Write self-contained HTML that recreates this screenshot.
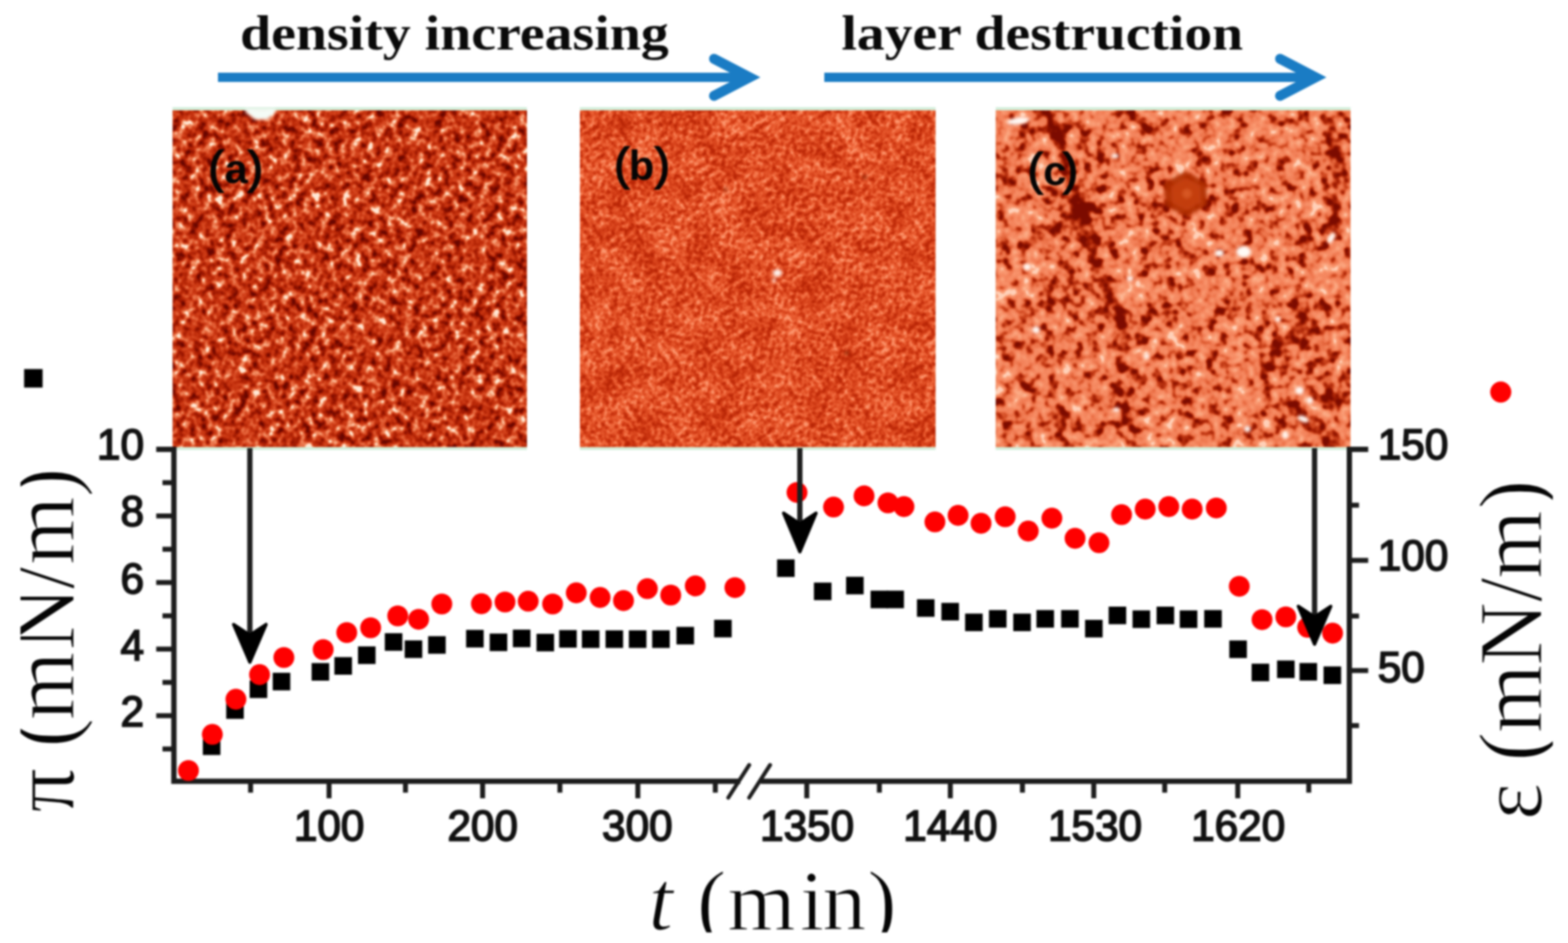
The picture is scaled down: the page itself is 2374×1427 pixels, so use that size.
<!DOCTYPE html>
<html lang="en"><head><meta charset="utf-8"><title>Surface pressure and dilational elasticity versus time</title>
<style>
html,body{margin:0;padding:0;background:#fff;}
body{width:2374px;height:1427px;overflow:hidden;}
svg{display:block;}
.tl{font-family:"Liberation Sans",sans-serif;font-size:64px;fill:#111;stroke:#111;stroke-width:2.4;}
.big{font-family:"Liberation Serif",serif;font-size:133px;fill:#050505;stroke:#fff;stroke-width:1.7;}
.ttl{font-family:"Liberation Serif",serif;font-weight:bold;font-size:74px;fill:#0a0a0a;}
.pl{font-family:"Liberation Sans",sans-serif;font-weight:bold;font-size:63px;fill:#050505;}
.pp{font-weight:normal;font-size:68px;stroke:#050505;stroke-width:2.2;}
.ax{stroke:#1c1c1c;fill:none;}
</style></head><body>
<svg width="2374" height="1427" viewBox="0 0 2374 1427">
<defs>
<filter id="soft" x="-2%" y="-2%" width="104%" height="104%" color-interpolation-filters="sRGB"><feGaussianBlur stdDeviation="1.6"/></filter>
<filter id="texA" x="0" y="0" width="100%" height="100%" color-interpolation-filters="sRGB"><feTurbulence type="fractalNoise" baseFrequency="0.082" numOctaves="2" seed="3"/><feColorMatrix type="matrix" values="1.85 0 0 0 -0.425  1.85 0 0 0 -0.425  1.85 0 0 0 -0.425  0 0 0 0 1"/><feComposite in2="SourceGraphic" operator="arithmetic" k1="1.25" k2="0" k3="1.5" k4="-1.200"/><feComponentTransfer><feFuncR type="table" tableValues="0.412 0.456 0.5 0.544 0.588 0.625 0.663 0.7 0.737 0.763 0.79 0.816 0.842 0.868 0.894 0.912 0.931 0.949 0.969 0.988 1"/><feFuncG type="table" tableValues="0.024 0.037 0.051 0.065 0.078 0.1 0.122 0.143 0.165 0.191 0.217 0.243 0.29 0.337 0.384 0.442 0.499 0.557 0.661 0.765 0.91"/><feFuncB type="table" tableValues="0 0 0 0 0 0.009 0.018 0.026 0.035 0.055 0.075 0.094 0.136 0.178 0.22 0.277 0.335 0.392 0.51 0.627 0.843"/></feComponentTransfer></filter>
<filter id="texB" x="0" y="0" width="100%" height="100%" color-interpolation-filters="sRGB"><feTurbulence type="fractalNoise" baseFrequency="0.14" numOctaves="2" seed="11"/><feColorMatrix type="matrix" values="1 0 0 0 0  1 0 0 0 0  1 0 0 0 0  0 0 0 0 1" result="f"/><feTurbulence type="fractalNoise" baseFrequency="0.022" numOctaves="2" seed="5"/><feColorMatrix type="matrix" values="1 0 0 0 0  1 0 0 0 0  1 0 0 0 0  0 0 0 0 1" result="c"/><feComposite in="f" in2="c" operator="arithmetic" k1="0" k2="1" k3="0.45" k4="-0.225"/><feColorMatrix type="matrix" values="1.7 0 0 0 -0.35  1.7 0 0 0 -0.35  1.7 0 0 0 -0.35  0 0 0 0 1"/><feComposite in2="SourceGraphic" operator="arithmetic" k1="1.25" k2="0" k3="1.5" k4="-1.200"/><feComponentTransfer><feFuncR type="table" tableValues="0.725 0.741 0.756 0.771 0.786 0.801 0.816 0.831 0.847 0.863 0.878 0.891 0.904 0.917 0.929 0.938 0.947 0.956 0.965 0.976 0.988"/><feFuncG type="table" tableValues="0.149 0.162 0.175 0.188 0.201 0.214 0.227 0.247 0.267 0.286 0.306 0.327 0.349 0.371 0.392 0.417 0.441 0.466 0.49 0.539 0.588"/><feFuncB type="table" tableValues="0.024 0.033 0.042 0.051 0.06 0.069 0.078 0.094 0.11 0.125 0.141 0.161 0.18 0.2 0.22 0.245 0.271 0.296 0.322 0.376 0.431"/></feComponentTransfer></filter>
<filter id="texC" x="0" y="0" width="100%" height="100%" color-interpolation-filters="sRGB"><feTurbulence type="fractalNoise" baseFrequency="0.062" numOctaves="2" seed="7"/><feColorMatrix type="matrix" values="1 0 0 0 0  1 0 0 0 0  1 0 0 0 0  0 0 0 0 1" result="f"/><feTurbulence type="fractalNoise" baseFrequency="0.016" numOctaves="2" seed="9"/><feColorMatrix type="matrix" values="1 0 0 0 0  1 0 0 0 0  1 0 0 0 0  0 0 0 0 1" result="c"/><feComposite in="f" in2="c" operator="arithmetic" k1="0" k2="1" k3="0.35" k4="-0.175"/><feColorMatrix type="matrix" values="1.9 0 0 0 -0.45  1.9 0 0 0 -0.45  1.9 0 0 0 -0.45  0 0 0 0 1"/><feComposite in2="SourceGraphic" operator="arithmetic" k1="1.25" k2="0" k3="1.5" k4="-1.200"/><feComponentTransfer><feFuncR type="table" tableValues="0.49 0.542 0.595 0.647 0.703 0.759 0.816 0.86 0.904 0.929 0.941 0.953 0.958 0.963 0.968 0.973 0.976 0.98 0.984 0.988 1"/><feFuncG type="table" tableValues="0.047 0.073 0.099 0.125 0.178 0.23 0.282 0.348 0.413 0.456 0.483 0.51 0.525 0.541 0.557 0.573 0.598 0.624 0.649 0.675 0.816"/><feFuncB type="table" tableValues="0 0.005 0.01 0.016 0.052 0.089 0.125 0.188 0.25 0.293 0.323 0.353 0.369 0.384 0.4 0.416 0.443 0.471 0.498 0.525 0.722"/></feComponentTransfer></filter>
<filter id="b8" x="-40%" y="-40%" width="180%" height="180%"><feGaussianBlur stdDeviation="7"/></filter>
<filter id="b5" x="-40%" y="-40%" width="180%" height="180%"><feGaussianBlur stdDeviation="4"/></filter>
<filter id="b3" x="-40%" y="-40%" width="180%" height="180%"><feGaussianBlur stdDeviation="2.2"/></filter>
<clipPath id="cA"><rect x="261.3" y="167" width="536.5" height="509.5"/></clipPath>
<clipPath id="cB"><rect x="878" y="167" width="538.5" height="509.5"/></clipPath>
<clipPath id="cC"><rect x="1507.5" y="167" width="537.3" height="509.5"/></clipPath>

<clipPath id="cpL"><rect x="31" y="0" width="400" height="1427"/></clipPath>
<clipPath id="cpR"><rect x="2000" y="0" width="351" height="1427"/></clipPath>
<clipPath id="cpB"><rect x="0" y="1200" width="2374" height="210.5"/></clipPath>
</defs>
<rect width="2374" height="1427" fill="#fff"/>
<g filter="url(#soft)">
<text class="ttl" x="363.5" y="75" textLength="649" lengthAdjust="spacingAndGlyphs">density increasing</text>
<text class="ttl" x="1274" y="75" textLength="608" lengthAdjust="spacingAndGlyphs">layer destruction</text>
<g stroke="#1a7cc4" fill="none" stroke-linecap="round" stroke-linejoin="miter"><line x1="330" y1="117" x2="1129" y2="117" stroke-width="14" stroke-linecap="butt"/><polyline points="1081,89 1135,117 1081,145" stroke-width="15"/></g>
<g stroke="#1a7cc4" fill="none" stroke-linecap="round" stroke-linejoin="miter"><line x1="1248" y1="117" x2="1986" y2="117" stroke-width="14" stroke-linecap="butt"/><polyline points="1938,89 1992,117 1938,145" stroke-width="15"/></g>
<rect x="261.3" y="162.2" width="536.5" height="518.8" fill="#d2eeda"/>
<rect x="878" y="162.2" width="538.5" height="518.8" fill="#d2eeda"/>
<rect x="1507.5" y="162.2" width="537.3" height="518.8" fill="#d2eeda"/>
<g clip-path="url(#cA)"><g filter="url(#texA)" transform="rotate(27 529.55 421.75)"><rect x="129.55" y="21.75" width="800" height="800" fill="#cccccc"/><g transform="rotate(-27 529.55 421.75)"><g fill="#fff" filter="url(#b3)"><ellipse cx="455" cy="262" rx="8" ry="7"/><ellipse cx="480" cy="294" rx="6" ry="8"/><ellipse cx="287" cy="188" rx="6" ry="5"/><ellipse cx="332" cy="302" rx="5" ry="6"/><ellipse cx="595" cy="327" rx="5" ry="7"/><ellipse cx="540" cy="393" rx="6" ry="5"/><ellipse cx="370" cy="390" rx="5" ry="6"/><ellipse cx="620" cy="480" rx="6" ry="4"/><ellipse cx="410" cy="452" rx="5" ry="5"/><ellipse cx="545" cy="585" rx="6" ry="7"/><ellipse cx="370" cy="563" rx="5" ry="8"/><ellipse cx="700" cy="573" rx="6" ry="5"/><ellipse cx="530" cy="655" rx="6" ry="5"/><ellipse cx="630" cy="640" rx="5" ry="5"/><ellipse cx="755" cy="470" rx="4" ry="5"/><ellipse cx="560" cy="220" rx="4" ry="4"/><ellipse cx="320" cy="470" rx="4" ry="4"/><ellipse cx="770" cy="620" rx="5" ry="5"/></g></g></g></g>
<path d="M371 164H417V170L405 181H386L372 170Z" fill="#f4fbf6" filter="url(#b3)"/>
<g clip-path="url(#cB)"><g filter="url(#texB)" transform="rotate(-33 1147.25 421.75)"><rect x="747.25" y="21.75" width="800" height="800" fill="#cccccc"/></g><g fill="#fff5f0" filter="url(#b3)"><ellipse cx="1177" cy="413" rx="7" ry="5.5"/><ellipse cx="1172" cy="424" rx="3" ry="4" opacity="0.7"/></g><g fill="#7a1c00" filter="url(#b3)" opacity="0.7"><circle cx="1309" cy="268" r="3.5"/><circle cx="1282" cy="534" r="3.5"/><circle cx="1098" cy="287" r="3"/></g></g>
<g clip-path="url(#cC)"><g filter="url(#texC)" transform="rotate(38 1776.15 421.75)"><rect x="1376.15" y="21.75" width="800" height="800" fill="#cccccc"/><g transform="rotate(-38 1776.15 421.75)"><g filter="url(#b5)" fill="none" stroke="#9c9c9c" stroke-linecap="round" stroke-linejoin="round"><path d="M1582 172L1600 200L1616 245L1628 295" stroke-width="20"/><path d="M1636 325L1650 358L1672 425L1696 485L1708 525" stroke-width="17"/><path d="M1634 335L1582 358L1545 370" stroke-width="10" stroke="#a8a8a8"/><path d="M1515 512L1576 535L1596 605L1606 640" stroke-width="11" stroke="#a4a4a4"/><path d="M1962 448L1981 478L1962 500L1912 555" stroke-width="15" stroke="#a0a0a0"/><path d="M2012 185L2025 260L2020 345" stroke-width="18" stroke="#a8a8a8"/><path d="M1945 615L1985 640L2020 668" stroke-width="24" stroke="#a4a4a4"/><path d="M1985 480L2005 560L2015 620" stroke-width="14" stroke="#a6a6a6"/><path d="M1700 520L1690 580L1712 640" stroke-width="10" stroke="#acacac"/></g><g filter="url(#b5)"><ellipse cx="1634" cy="320" rx="18" ry="26" fill="#868686" transform="rotate(-15 1634 320)"/></g></g></g><g filter="url(#b3)"><path d="M1795 259L1826 276L1828 310L1797 328L1765 312L1762 277Z" fill="#ae2c06" opacity="0.9"/><path d="M1795 269L1817 281L1818 306L1797 318L1775 307L1773 282Z" fill="#c8400f" opacity="0.85"/><circle cx="1797" cy="293" r="7" fill="#dc5c2a" opacity="0.8"/></g><g fill="#fffaf6" filter="url(#b3)"><ellipse cx="1882.7" cy="381" rx="11" ry="9"/><ellipse cx="1846" cy="383" rx="7" ry="5.5"/><ellipse cx="1541.7" cy="183" rx="17" ry="5.5" transform="rotate(-8 1541.7 183)"/><ellipse cx="1555" cy="404" rx="6" ry="5"/><ellipse cx="1568.6" cy="499" rx="6" ry="5.5"/><ellipse cx="1711" cy="421.7" rx="5" ry="4"/><ellipse cx="1967.5" cy="591" rx="6.5" ry="6"/><ellipse cx="1973" cy="634" rx="9" ry="4.5" transform="rotate(20 1973 634)"/><ellipse cx="1888.5" cy="649" rx="5" ry="5"/><ellipse cx="1946" cy="658.7" rx="5" ry="5"/><ellipse cx="1690" cy="620" rx="5" ry="3.5"/><ellipse cx="1736" cy="539" rx="4" ry="4.5"/><ellipse cx="2015.7" cy="360" rx="4.5" ry="9" transform="rotate(30 2015.7 360)"/><ellipse cx="1934.7" cy="483" rx="4" ry="4"/><ellipse cx="1688" cy="236" rx="6" ry="3.5"/><ellipse cx="1983" cy="606" rx="5" ry="5"/></g></g>

<text class="pl" y="277"><tspan class="pp" x="315.5">(</tspan><tspan x="340">a</tspan><tspan class="pp" x="375.5">)</tspan></text>
<text class="pl" y="271.5"><tspan class="pp" x="930">(</tspan><tspan x="952">b</tspan><tspan class="pp" x="991.5">)</tspan></text>
<text class="pl" y="279.5"><tspan class="pp" x="1556">(</tspan><tspan x="1579.5">c</tspan><tspan class="pp" x="1609.5">)</tspan></text>
<rect x="36.5" y="558.5" width="28" height="28" fill="#000"/>
<circle cx="2272.2" cy="593.2" r="16" fill="#f00"/>
<g class="ax" stroke-width="8" stroke-linecap="butt">
<path d="M236.5 680H263.3V1182.3H1121"/>
<path d="M1152 1182.3H2043V680H2071.5"/>
<path d="M1102.7 1207L1134.3 1157.7M1134.3 1207L1165.9 1157.7" stroke-width="6" stroke-linecap="round"/>
<path d="M236.5 780.75H263" stroke-width="7.5"/>
<path d="M236.5 881.5H263" stroke-width="7.5"/>
<path d="M236.5 982.25H263" stroke-width="7.5"/>
<path d="M236.5 1083H263" stroke-width="7.5"/>
<path d="M246 730.4H263" stroke-width="7.5"/>
<path d="M246 831.15H263" stroke-width="7.5"/>
<path d="M246 931.9H263" stroke-width="7.5"/>
<path d="M246 1032.65H263" stroke-width="7.5"/>
<path d="M246 1133.4H263" stroke-width="7.5"/>
<path d="M2043 848H2071.5" stroke-width="7.5"/>
<path d="M2043 1014.7H2071.5" stroke-width="7.5"/>
<path d="M2043 764.5H2057.6" stroke-width="7.5"/>
<path d="M2043 932.2H2057.6" stroke-width="7.5"/>
<path d="M2043 1098H2057.6" stroke-width="7.5"/>
<path d="M498.2 1182V1208" stroke-width="7.5"/>
<path d="M730.7 1182V1208" stroke-width="7.5"/>
<path d="M965.7 1182V1208" stroke-width="7.5"/>
<path d="M1221.5 1182V1208" stroke-width="7.5"/>
<path d="M1438.8 1182V1208" stroke-width="7.5"/>
<path d="M1656 1182V1208" stroke-width="7.5"/>
<path d="M1874 1182V1208" stroke-width="7.5"/>
<path d="M379.4 1182V1199.5" stroke-width="7.5"/>
<path d="M613.9 1182V1199.5" stroke-width="7.5"/>
<path d="M847.7 1182V1199.5" stroke-width="7.5"/>
<path d="M1083 1182V1199.5" stroke-width="7.5"/>
<path d="M1331.4 1182V1199.5" stroke-width="7.5"/>
<path d="M1548 1182V1199.5" stroke-width="7.5"/>
<path d="M1763.4 1182V1199.5" stroke-width="7.5"/>
<path d="M1981.5 1182V1199.5" stroke-width="7.5"/>
</g>
<text class="tl" text-anchor="middle" x="498.3" y="1272">100</text>
<text class="tl" text-anchor="middle" x="730.8" y="1272">200</text>
<text class="tl" text-anchor="middle" x="965" y="1272">300</text>
<text class="tl" text-anchor="middle" x="1222" y="1272">1350</text>
<text class="tl" text-anchor="middle" x="1438.8" y="1272">1440</text>
<text class="tl" text-anchor="middle" x="1657.9" y="1272">1530</text>
<text class="tl" text-anchor="middle" x="1874.6" y="1272">1620</text>
<text class="tl" text-anchor="end" x="218" y="695.1">10</text>
<text class="tl" text-anchor="end" x="218" y="796">8</text>
<text class="tl" text-anchor="end" x="218" y="898">6</text>
<text class="tl" text-anchor="end" x="218" y="998.8">4</text>
<text class="tl" text-anchor="end" x="218" y="1099.2">2</text>
<text class="tl" x="2086" y="694.5">150</text>
<text class="tl" x="2086" y="863">100</text>
<text class="tl" x="2086" y="1032.2">50</text>
<g fill="#000">
<rect x="307.1" y="1115.9" width="26.6" height="26.6"/>
<rect x="342.5" y="1061.2" width="26.6" height="26.6"/>
<rect x="378" y="1029.7" width="26.6" height="26.6"/>
<rect x="412.9" y="1018.1" width="26.6" height="26.6"/>
<rect x="471.8" y="1003.4" width="26.6" height="26.6"/>
<rect x="506.3" y="994.4" width="26.6" height="26.6"/>
<rect x="542" y="978.2" width="26.6" height="26.6"/>
<rect x="582.6" y="958.2" width="26.6" height="26.6"/>
<rect x="612.7" y="969.1" width="26.6" height="26.6"/>
<rect x="648.2" y="962.7" width="26.6" height="26.6"/>
<rect x="705.7" y="953.2" width="26.6" height="26.6"/>
<rect x="741.4" y="958.7" width="26.6" height="26.6"/>
<rect x="776.5" y="952.8" width="26.6" height="26.6"/>
<rect x="812.3" y="959.1" width="26.6" height="26.6"/>
<rect x="846.6" y="953.5" width="26.6" height="26.6"/>
<rect x="881" y="953.9" width="26.6" height="26.6"/>
<rect x="916.8" y="953.9" width="26.6" height="26.6"/>
<rect x="952.1" y="953.9" width="26.6" height="26.6"/>
<rect x="987.4" y="953.9" width="26.6" height="26.6"/>
<rect x="1024.2" y="948.6" width="26.6" height="26.6"/>
<rect x="1081.2" y="937.9" width="26.6" height="26.6"/>
<rect x="1176.5" y="846.5" width="26.6" height="26.6"/>
<rect x="1232.3" y="881.6" width="26.6" height="26.6"/>
<rect x="1281" y="872.8" width="26.6" height="26.6"/>
<rect x="1318.1" y="893.8" width="26.6" height="26.6"/>
<rect x="1342" y="893.8" width="26.6" height="26.6"/>
<rect x="1388.3" y="906.8" width="26.6" height="26.6"/>
<rect x="1425.3" y="912.3" width="26.6" height="26.6"/>
<rect x="1461.2" y="928.5" width="26.6" height="26.6"/>
<rect x="1497.3" y="923.2" width="26.6" height="26.6"/>
<rect x="1534.1" y="928.5" width="26.6" height="26.6"/>
<rect x="1569.2" y="923.2" width="26.6" height="26.6"/>
<rect x="1606.6" y="923.2" width="26.6" height="26.6"/>
<rect x="1642.8" y="938" width="26.6" height="26.6"/>
<rect x="1678.5" y="918" width="26.6" height="26.6"/>
<rect x="1714.7" y="923.7" width="26.6" height="26.6"/>
<rect x="1751.1" y="918" width="26.6" height="26.6"/>
<rect x="1786.2" y="923.7" width="26.6" height="26.6"/>
<rect x="1823.2" y="923.2" width="26.6" height="26.6"/>
<rect x="1861.2" y="969.2" width="26.6" height="26.6"/>
<rect x="1895" y="1004.3" width="26.6" height="26.6"/>
<rect x="1933.5" y="999.5" width="26.6" height="26.6"/>
<rect x="1967.5" y="1003.3" width="26.6" height="26.6"/>
<rect x="2003.9" y="1008.5" width="26.6" height="26.6"/>
</g>
<g fill="#ff0000">
<circle cx="285.3" cy="1166" r="15.8"/>
<circle cx="321.5" cy="1111.3" r="15.8"/>
<circle cx="357.2" cy="1058.1" r="15.8"/>
<circle cx="393" cy="1020.9" r="15.8"/>
<circle cx="429.8" cy="995" r="15.8"/>
<circle cx="489.3" cy="983" r="15.8"/>
<circle cx="525" cy="957.2" r="15.8"/>
<circle cx="561.2" cy="950" r="15.8"/>
<circle cx="602.2" cy="932" r="15.8"/>
<circle cx="633.8" cy="937.2" r="15.8"/>
<circle cx="668.9" cy="914" r="15.8"/>
<circle cx="728.9" cy="913.6" r="15.8"/>
<circle cx="764.6" cy="911" r="15.8"/>
<circle cx="799.7" cy="909.8" r="15.8"/>
<circle cx="836.7" cy="914" r="15.8"/>
<circle cx="872.5" cy="897.1" r="15.8"/>
<circle cx="908.6" cy="904.1" r="15.8"/>
<circle cx="944" cy="908.9" r="15.8"/>
<circle cx="980.1" cy="890.8" r="15.8"/>
<circle cx="1015.5" cy="900.5" r="15.8"/>
<circle cx="1052.7" cy="886.6" r="15.8"/>
<circle cx="1112.7" cy="889.2" r="15.8"/>
<circle cx="1206.7" cy="745.2" r="15.8"/>
<circle cx="1262" cy="767.3" r="15.8"/>
<circle cx="1308.2" cy="750.4" r="15.8"/>
<circle cx="1344.4" cy="761" r="15.8"/>
<circle cx="1368.6" cy="766.6" r="15.8"/>
<circle cx="1415.5" cy="789.8" r="15.8"/>
<circle cx="1450.6" cy="779.9" r="15.8"/>
<circle cx="1485.3" cy="791.9" r="15.8"/>
<circle cx="1521.9" cy="782" r="15.8"/>
<circle cx="1556.8" cy="803.6" r="15.8"/>
<circle cx="1592.6" cy="784.1" r="15.8"/>
<circle cx="1627.7" cy="814.6" r="15.8"/>
<circle cx="1663.9" cy="821.3" r="15.8"/>
<circle cx="1698.1" cy="778.8" r="15.8"/>
<circle cx="1733.9" cy="770.4" r="15.8"/>
<circle cx="1769.6" cy="766.6" r="15.8"/>
<circle cx="1805" cy="770.4" r="15.8"/>
<circle cx="1841.5" cy="768.7" r="15.8"/>
<circle cx="1876.3" cy="887.2" r="15.8"/>
<circle cx="1910.8" cy="937.7" r="15.8"/>
<circle cx="1946.8" cy="933.5" r="15.8"/>
<circle cx="1979.8" cy="949.3" r="15.8"/>
<circle cx="2017.6" cy="958.1" r="15.8"/>
</g>
<g><line x1="378.3" y1="678" x2="378.3" y2="971" stroke="#1e1e1e" stroke-width="8"/><path d="M378.3 1002L353.8 945L378.3 961L402.8 945Z" fill="#000" stroke="#000" stroke-width="5" stroke-linejoin="round"/></g>
<g><line x1="1211" y1="678" x2="1211" y2="802.6" stroke="#1e1e1e" stroke-width="8"/><path d="M1211 835L1186.5 776.6L1211 792.6L1235.5 776.6Z" fill="#000" stroke="#000" stroke-width="5" stroke-linejoin="round"/></g>
<g><line x1="1990.3" y1="678" x2="1990.3" y2="943.6" stroke="#1e1e1e" stroke-width="8"/><path d="M1990.3 974.7L1965.8 917.6L1990.3 933.6L2014.8 917.6Z" fill="#000" stroke="#000" stroke-width="5" stroke-linejoin="round"/></g>
<g clip-path="url(#cpL)"><text class="big" transform="translate(112 1228) rotate(-90) scale(1 1.03)" dx="-1.5 0 -1.9 -3 2.2 -3.6 0 -1">π (mN/m)</text></g>
<g clip-path="url(#cpR)"><text class="big" transform="translate(2334 1238) rotate(-90) scale(1 1.03)" dx="-2.7 0 -0.5 -1.5 -1.3 0.1 -1.6 1.6">ε (mN/m)</text></g>
<g clip-path="url(#cpB)"><text class="big" transform="translate(985 1406.5) scale(1 0.97)" dx="-3 0 3 1.7 6.3 -2.8 1.5"><tspan font-style="italic">t</tspan> (min)</text></g>
</g>
</svg>
</body></html>
